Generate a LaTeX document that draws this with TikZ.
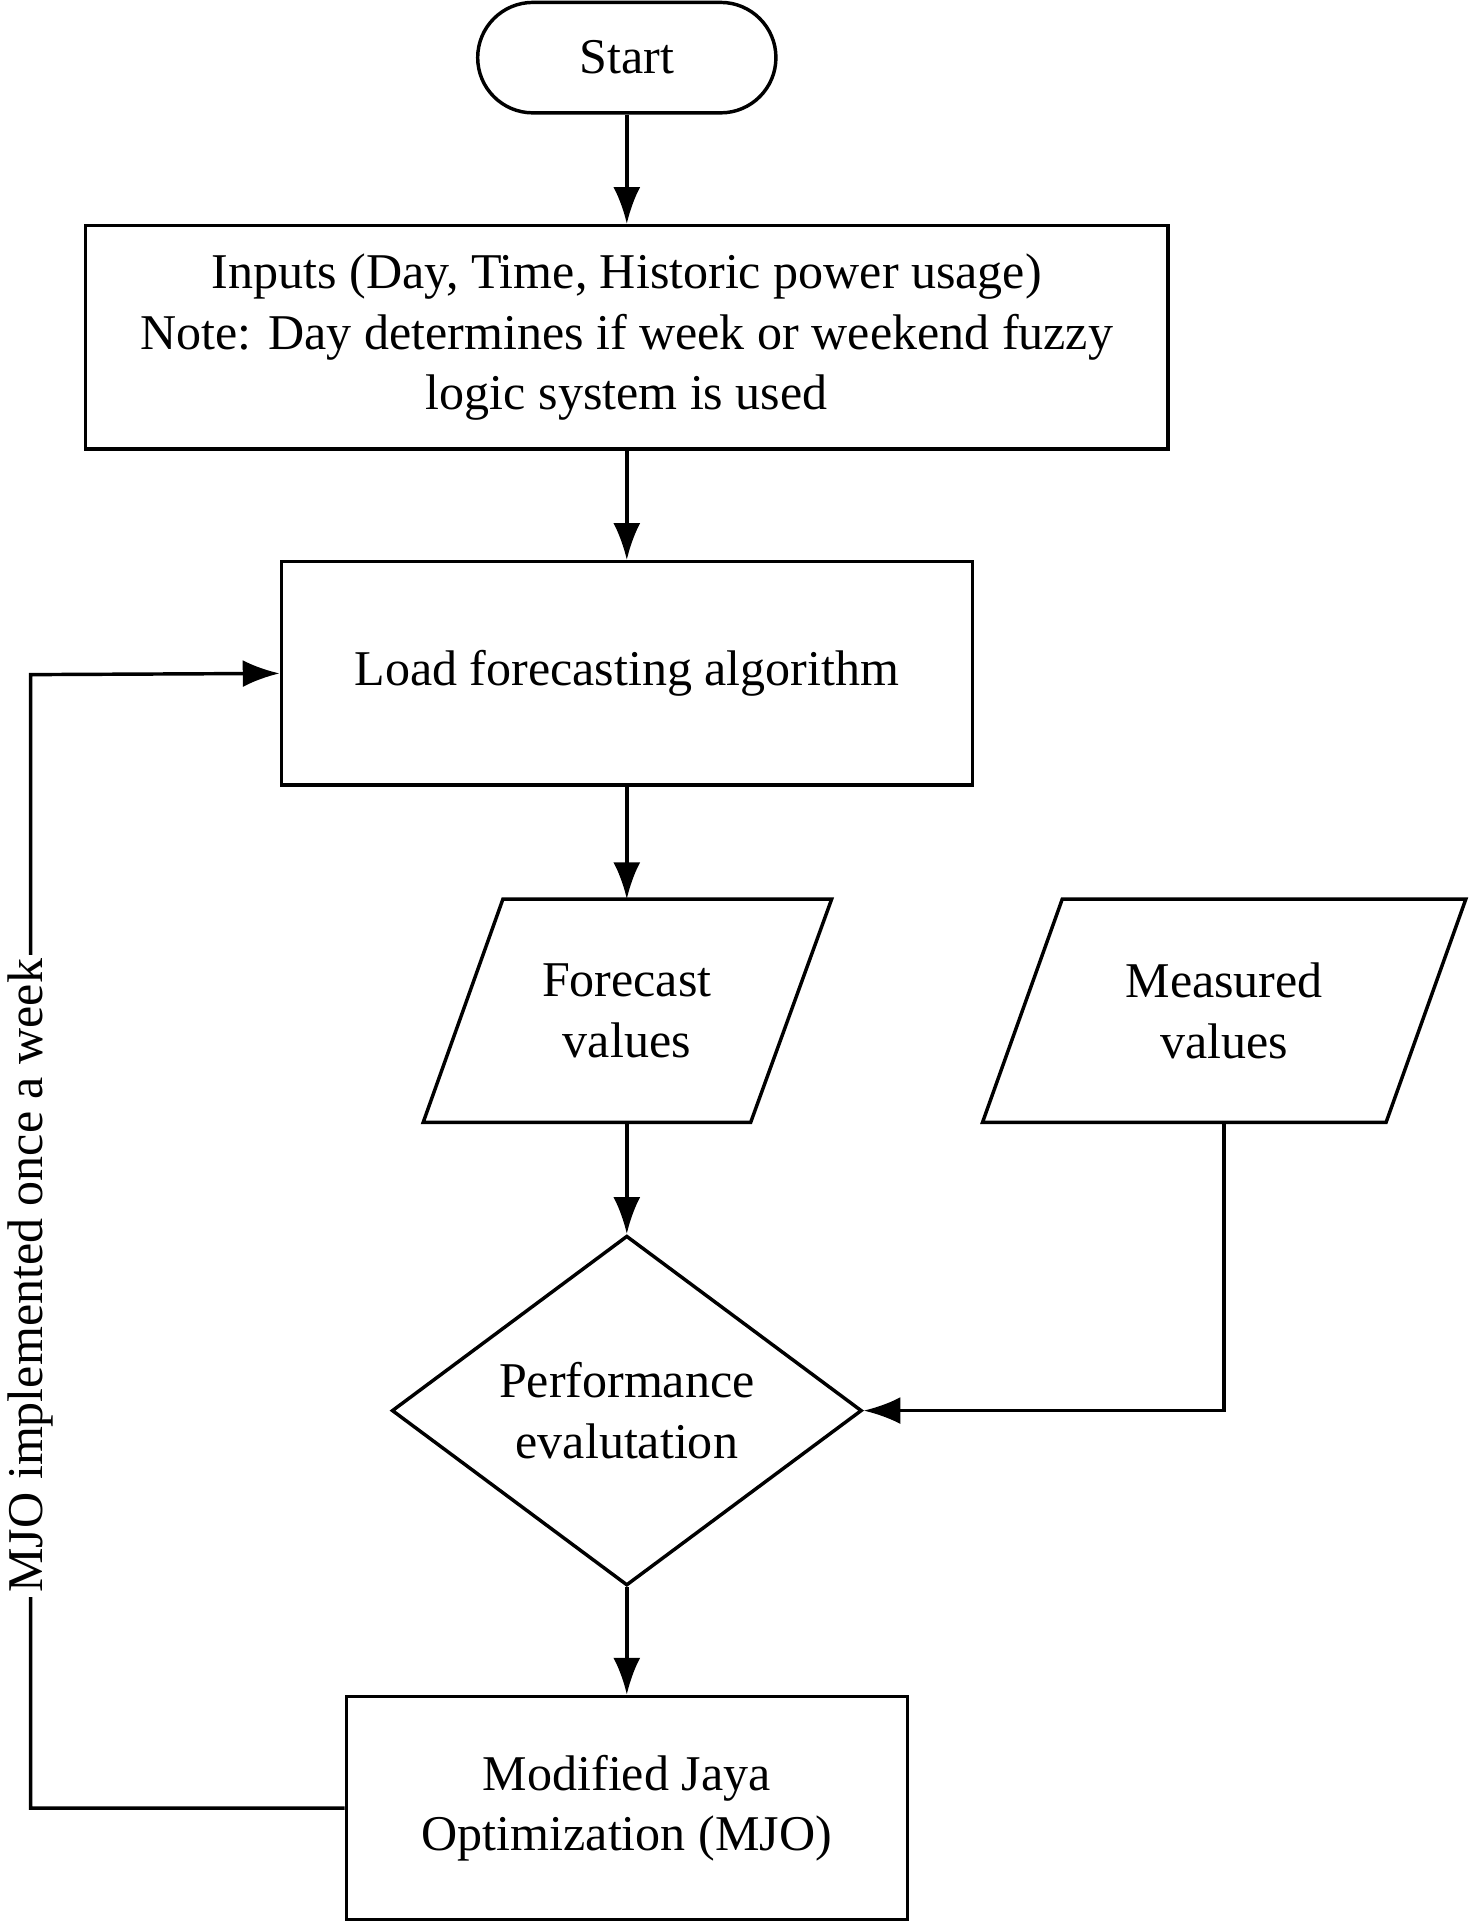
\documentclass[tikz,border=0pt]{standalone}
\usepackage{fontspec}
\setmainfont{Liberation Serif}
\usetikzlibrary{shapes.geometric,arrows.meta}
\tikzset{
  box/.style={draw,thick,minimum height=1.82cm,align=center,font=\fontsize{11.6}{14}\selectfont},
  txt/.style={align=center,font=\fontsize{11.6}{14}\selectfont},
  arr/.style={thick,-{Latex[length=0.3cm,width=0.22cm]}}
}
\begin{document}
\begin{tikzpicture}[x=0.01cm,y=-0.01cm]
  \useasboundingbox (0,0) rectangle (1200,1571);
  % Start
  \node[box,rounded corners=0.45cm,minimum width=2.43cm,minimum height=0.9cm] (start) at (511,47) {Start};
  % Eingaben
  \node[box,minimum width=8.82cm] (inputs) at (511,275)
    {Inputs (Day, Time, Historic power usage)\\Note: Day determines if week or weekend fuzzy\\logic system is used};
  \node[box,minimum width=5.63cm] (load) at (511,549) {Load forecasting algorithm};
  % Datenblöcke
  \node[txt] (fc) at (511,824) {Forecast\\values};
  \draw[thick] (410,733) -- (678,733) -- (612,915) -- (345,915) -- cycle;
  \node[txt] (meas) at (998,824) {Measured\\values};
  \draw[thick] (866,733) -- (1195,733) -- (1130,915) -- (801,915) -- cycle;
  \coordinate (fcb) at (511,915);
  \coordinate (measb) at (998,915);
  % Entscheidung
  \node[box,diamond,minimum width=3.83cm,minimum height=2.85cm,aspect=1.34,inner sep=0pt] (perf) at (511,1150) {Performance\\evalutation};
  \node[box,minimum width=4.57cm] (mjo) at (511,1474) {Modified Jaya\\Optimization (MJO)};
  % Pfeile
  \draw[arr] (start) -- (inputs);
  \draw[arr] (inputs) -- (load);
  \draw[arr] (load) -- (511,733);
  \draw[arr] (fcb) -- (perf);
  \draw[arr] (measb) |- (perf.east);
  \draw[arr] (perf) -- (mjo);
  \coordinate (lp) at (25,1474);
  \draw[arr] (mjo.west) -- (lp) -- (25,550) -- (load.west);
  \node[txt,rotate=90,fill=white,inner sep=1pt] (lbl) at (25,1040) {MJO implemented once a week};
\end{tikzpicture}
\end{document}
